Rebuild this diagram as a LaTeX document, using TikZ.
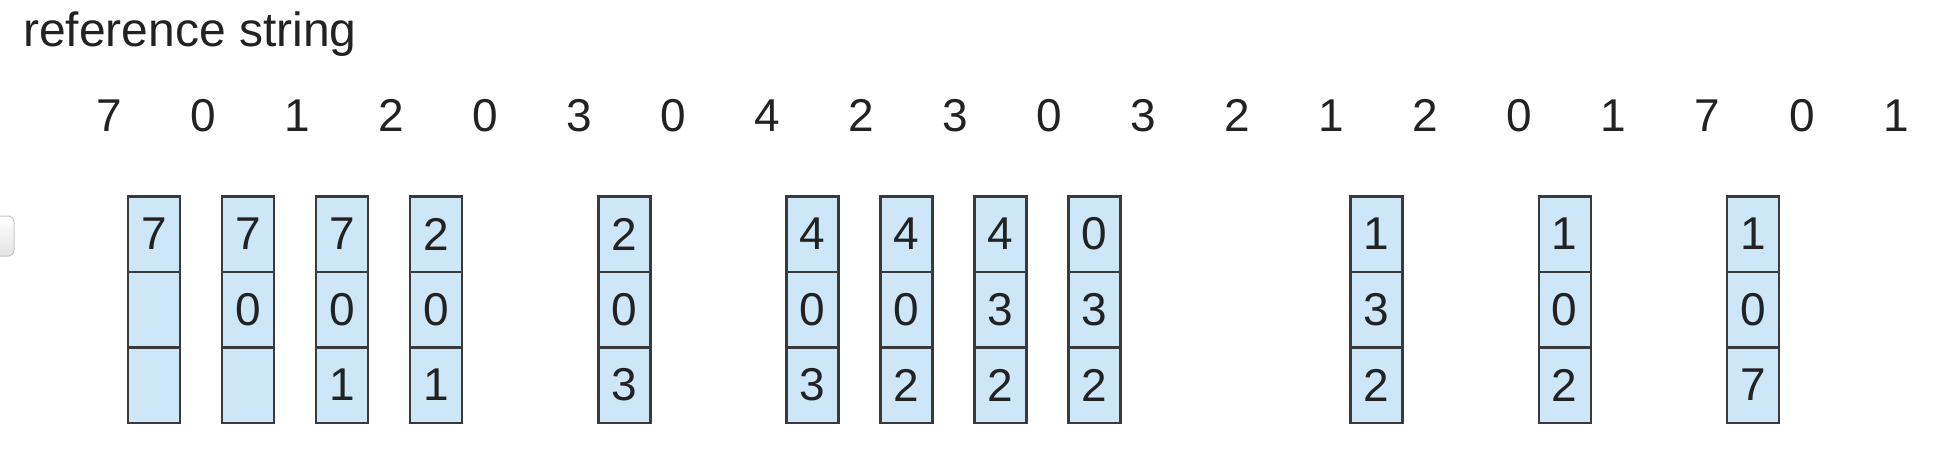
\documentclass[tikz,border=0pt]{standalone}
\usepackage{fontspec}
\setmainfont{Liberation Sans}
\definecolor{cellfill}{HTML}{CDE7F8}
\definecolor{cellline}{HTML}{3A3A3A}
\definecolor{ink}{HTML}{222222}
\begin{document}
\begin{tikzpicture}[x=1pt,y=-1pt,
  every node/.style={font=\fontsize{46}{50}\selectfont, text=ink, inner sep=0pt},
  cell/.style={draw=cellline, fill=cellfill, line width=2.5pt,
    minimum width=52pt, minimum height=75.5pt, anchor=center},
  tab/.style={draw=gray!45, line width=1pt, rounded corners=6pt, top color=white, bottom color=gray!22}]
\useasboundingbox (0,0) rectangle (1942,460);
% partly hidden tab at the left edge
\draw[tab] (-20,216) rectangle (14,256);
\node[anchor=base west, font=\fontsize{48}{52}\selectfont] (title) at (23,47) {reference string};
\foreach \d [count=\i from 0] in {7,0,1,2,0,3,0,4,2,3,0,3,2,1,2,0,1,7,0,1}
  \node[anchor=base] (ref\i) at ({108.9+94.05*\i},131.5) {\d};
\foreach \k/\a/\b/\c in {0/7/{}/{}, 1/7/0/{}, 2/7/0/1, 3/2/0/1, 5/2/0/3,
    7/4/0/3, 8/4/0/2, 9/4/3/2, 10/0/3/2, 13/1/3/2, 15/1/0/2, 17/1/0/7}
{
  \node[cell] (f\k-a) at ({154+94.05*\k},234) {\a};
  \node[cell] (f\k-b) at ({154+94.05*\k},309.5) {\b};
  \node[cell] (f\k-c) at ({154+94.05*\k},385) {\c};
}
\end{tikzpicture}
\end{document}
